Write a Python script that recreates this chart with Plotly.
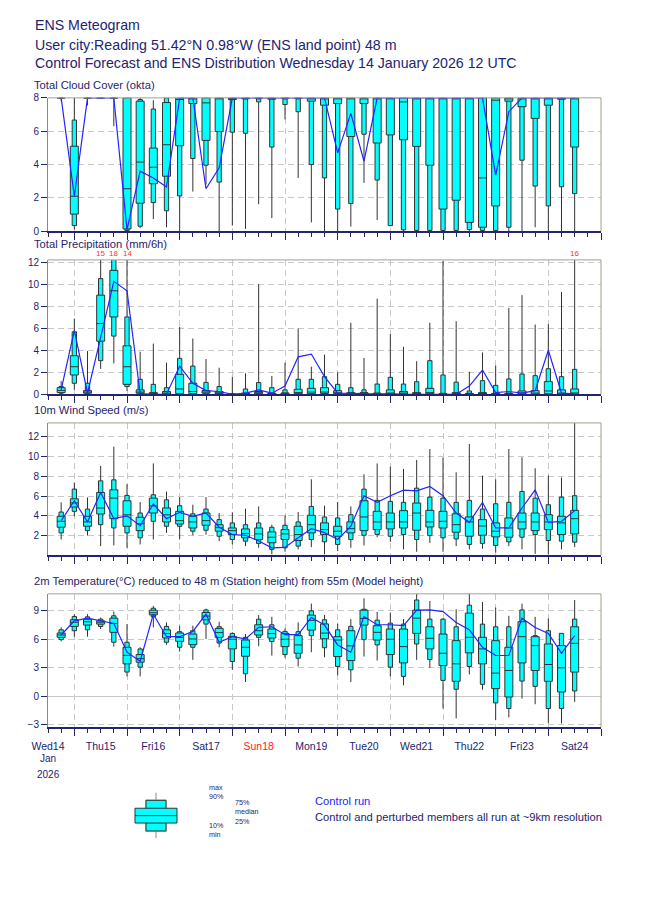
import pandas as pd
import plotly.graph_objects as go

# ---------------- data ----------------
times = pd.date_range("2026-01-14 18:00", periods=40, freq="6h").strftime("%Y-%m-%d %H:%M").tolist()
midnights = pd.date_range("2026-01-15", "2026-01-25", freq="D").strftime("%Y-%m-%d %H:%M").tolist()
noons = pd.date_range("2026-01-14 12:00", "2026-01-24 12:00", freq="D").strftime("%Y-%m-%d %H:%M").tolist()
day_labels = ["Wed14", "Thu15", "Fri16", "Sat17", "Sun18", "Mon19", "Tue20", "Wed21", "Thu22", "Fri23", "Sat24"]
weekend_red = ["Sun18"]

# Total cloud cover (okta)
cloud_min = [7.8, 0.1, 7.55, 8, 6.3, 0, 0.2, 0.73, 0.24, 0, 2.38, 2.8, 0, 0.34, 0.14, 1.62, 0.79, 6.71, 3.2, 0.53,
             0, 0, 0.28, 2.9, 0.67, 0.3, 0, 0, 0, 0, 0, 0, 0, 0, 0, 0, 0.24, 0, 0, 0]
cloud_p10 = [8, 0.34, 8, 8, 8, 0.05, 0.3, 1.72, 1.23, 2.12, 4.36, 3.96, 2.95, 5.94, 5.88, 7.76, 5.05, 7.6, 7.17, 4.0,
             3.2, 1.33, 1.66, 5.82, 3.07, 0.34, 0.08, 0.05, 0.05, 0.05, 0.05, 0.1, 0.05, 0.05, 0.24, 4.26, 2.71, 1.52, 2.67, 2.26]
cloud_p25 = [8, 1.03, 8, 8, 8, 0.14, 1.68, 2.85, 3.3, 5.13, 7.66, 5.45, 5.98, 7.9, 7.95, 8, 7.92, 8, 8, 7.8,
             7.56, 7.66, 5.68, 7.66, 5.29, 5.78, 5.49, 5.09, 3.96, 1.33, 1.86, 0.53, 0.24, 1.52, 7.8, 7.47, 6.77, 7.56, 7.92, 5.05]
cloud_med = [8, 2.1, 8, 8, 8, 2.55, 4.15, 3.84, 5.19, 7.9, 8, 7.7, 8, 8, 8, 8, 8, 8, 8, 8,
             8, 8, 8, 8, 8, 8, 7.76, 8, 8, 8, 8, 8, 3.2, 7.86, 8, 8, 8, 8, 8, 8]
cloud_p75 = [8, 5.1, 8, 8, 8, 8, 7.8, 4.99, 7.72, 8, 8, 8, 8, 8, 8, 8, 8, 8, 8, 8,
             8, 8, 8, 8, 8, 8, 8, 8, 8, 8, 8, 8, 8, 8, 8, 8, 8, 8, 8, 8]
cloud_p90 = [8, 6.67, 8, 8, 8, 8, 7.9, 7.33, 8, 8, 8, 8, 8, 8, 8, 8, 8, 8, 8, 8,
             8, 8, 8, 8, 8, 8, 8, 8, 8, 8, 8, 8, 8, 8, 8, 8, 8, 8, 8, 8]
cloud_max = [8, 8, 8, 8, 8, 8, 8, 7.86, 8, 8, 8, 8, 8, 8, 8, 8, 8, 8, 8, 8,
             8, 8, 8, 8, 8, 8, 8, 8, 8, 8, 8, 8, 8, 8, 8, 8, 8, 8, 8, 8]
cloud_ctrl = [8, 2.1, 8, 8, 8, 0.1, 3.6, 3.2, 2.65, 8, 8, 2.55, 3.8, 8, 8, 8, 8, 8, 8, 8,
              8, 4.7, 7.07, 4.2, 8, 8, 8, 8, 8, 8, 8, 8, 8, 3.37, 7.17, 8, 8, 8, 8, 8]

# Total precipitation (mm/6h)
prec_min = [0, 0.4, 0, 2.3, 2.8, 0.3, 0, 0, 0, 0, 0, 0, 0, 0, 0, 0, 0, 0, 0, 0,
            0, 0, 0, 0, 0, 0, 0, 0, 0, 0, 0, 0, 0, 0, 0, 0, 0, 0, 0, 0]
prec_p10 = [0.1, 1.0, 0.05, 3.05, 5.28, 0.7, 0.02, 0, 0, 0.02, 0.02, 0.02, 0.02, 0, 0, 0, 0, 0, 0.02, 0.02,
            0.02, 0, 0, 0, 0, 0, 0, 0, 0, 0, 0, 0, 0, 0, 0, 0, 0, 0, 0, 0]
prec_p25 = [0.15, 1.75, 0.1, 4.82, 7.02, 0.9, 0.1, 0.02, 0.02, 0.05, 0.05, 0.1, 0.05, 0, 0.02, 0.05, 0.02, 0.02, 0.05, 0.05,
            0.08, 0.05, 0.02, 0.02, 0, 0.02, 0.02, 0.02, 0.05, 0, 0.02, 0, 0.02, 0, 0, 0.02, 0.02, 0.05, 0.02, 0.02]
prec_med = [0.35, 2.5, 0.2, 6.42, 9.4, 2.5, 0.2, 0.05, 0.08, 0.48, 0.25, 0.2, 0.12, 0, 0.05, 0.12, 0.05, 0.05, 0.15, 0.2,
            0.2, 0.12, 0.05, 0.05, 0.02, 0.1, 0.08, 0.05, 0.15, 0.02, 0.05, 0.02, 0.05, 0.02, 0.02, 0.08, 0.1, 0.3, 0.1, 0.12]
prec_p75 = [0.6, 3.5, 0.33, 9.0, 11.25, 4.4, 0.4, 0.15, 0.25, 1.81, 1.0, 0.33, 0.25, 0, 0.1, 0.25, 0.1, 0.12, 0.45, 0.54,
            0.6, 0.33, 0.15, 0.15, 0.1, 0.4, 0.25, 0.15, 0.54, 0.05, 0.15, 0.08, 0.15, 0.08, 0.08, 0.3, 0.33, 1.15, 0.4, 0.48]
prec_p90 = [0.7, 5.67, 1.0, 10.5, 12.3, 7.02, 1.36, 0.9, 0.6, 3.26, 2.56, 1.08, 0.7, 0.02, 0.48, 1.06, 0.6, 0.4, 1.36, 1.36,
            1.6, 0.9, 0.6, 0.4, 0.93, 1.54, 0.93, 1.14, 3.05, 1.75, 1.1, 0.3, 1.24, 0.81, 1.39, 1.84, 1.69, 2.32, 1.6, 2.26]
prec_max = [1.2, 6.87, 3.92, 15, 18, 14, 3.86, 4.6, 2.87, 6.12, 5.06, 3.2, 2.41, 1.6, 1.9, 10.0, 1.66, 2.87, 5.97, 2.5,
            3.6, 2.0, 6.48, 3.3, 8.68, 5.46, 4.31, 3.0, 6.5, 12.1, 6.63, 2.05, 3.8, 2.6, 7.84, 9.0, 6.33, 6.36, 9.29, 16]
prec_ctrl = [0.4, 5.8, 0.1, 5.2, 10.25, 9.4, 0.05, 0, 0, 2.56, 1.0, 0.33, 0.25, 0, 0.1, 0.4, 0.1, 0.75, 3.4, 3.65,
             1.6, 0.1, 0.05, 0.05, 0.02, 0.05, 0, 0, 0, 0, 0, 0.75, 2.2, 0.15, 0.25, 0.1, 0.33, 4.0, 0.1, 0.03]

# 10m wind speed (m/s)
wind_min = [1.6, 3.95, 2.0, 0.93, 1.0, 0.76, 1.1, 1.6, 2.27, 1.6, 2.03, 2.1, 1.43, 1.1, 0.93, 0.76, 0.1, 0.36, 0.6, 0.83,
            0.1, 0.42, 0.76, 1.0, 1.83, 1.36, 0.6, 0.36, 1.26, 0.36, 0.93, 0.6, 0.66, 0.26, 0.93, 0.6, 0.15, 0.1, 0.6, 0.83]
wind_p10 = [2.27, 4.45, 2.5, 3.1, 2.77, 2.27, 1.77, 3.44, 2.94, 2.94, 2.44, 2.54, 1.93, 1.6, 1.43, 1.2, 0.6, 0.76, 0.93, 1.6,
            1.37, 1.1, 1.6, 2.03, 2.1, 1.93, 2.1, 1.6, 2.0, 1.77, 1.66, 1.1, 1.2, 1.0, 1.36, 1.83, 2.1, 1.5, 1.43, 1.33]
wind_p25 = [2.84, 4.89, 2.94, 4.18, 3.71, 2.94, 2.5, 4.28, 3.38, 3.17, 2.77, 3.04, 2.44, 2.1, 1.77, 1.6, 1.27, 1.6, 1.5, 2.27,
            2.1, 1.93, 2.27, 2.5, 2.6, 2.67, 2.77, 2.54, 2.87, 2.77, 2.34, 1.93, 2.03, 1.87, 1.83, 2.67, 2.5, 2.6, 2.1, 2.17]
wind_med = [3.44, 5.3, 3.38, 4.79, 5.79, 4.1, 3.2, 5.0, 4.1, 3.51, 3.38, 3.51, 2.8, 2.5, 2.2, 2.17, 1.83, 2.17, 2.1, 3.1,
            2.6, 2.44, 2.7, 3.88, 3.38, 3.38, 3.38, 4.28, 3.38, 3.44, 3.1, 3.38, 2.97, 2.44, 2.77, 3.38, 3.38, 3.38, 3.28, 3.71]
wind_p75 = [3.95, 5.72, 3.95, 6.36, 6.63, 5.52, 3.85, 5.79, 4.79, 4.45, 3.95, 4.28, 3.1, 2.77, 2.67, 2.77, 2.37, 2.6, 2.94, 4.05,
            3.28, 2.94, 3.38, 5.52, 4.45, 4.28, 4.52, 5.29, 4.55, 4.45, 4.2, 3.88, 3.61, 3.28, 3.78, 4.28, 4.28, 4.11, 3.95, 4.55]
wind_p90 = [4.38, 6.7, 4.68, 7.54, 7.64, 6.06, 4.28, 6.13, 5.62, 5.02, 4.2, 4.68, 3.61, 3.28, 3.1, 3.28, 2.84, 3.04, 3.38, 4.95,
            3.88, 3.78, 4.11, 6.7, 5.56, 5.46, 5.36, 6.8, 5.89, 5.79, 5.36, 5.56, 4.68, 5.22, 5.36, 6.46, 5.79, 5.12, 5.89, 6.03]
wind_max = [5.36, 7.37, 5.86, 9.05, 11.0, 7.2, 5.39, 9.3, 6.46, 5.89, 5.12, 5.89, 4.28, 4.35, 4.72, 4.95, 3.1, 4.05, 4.38, 7.7,
            5.02, 5.39, 4.95, 8.2, 9.3, 8.98, 8.74, 9.65, 10.76, 9.88, 8.4, 11.26, 8.07, 7.7, 10.76, 9.92, 8.81, 8.07, 7.87, 14.0]
wind_ctrl = [3.5, 5.52, 3.38, 6.36, 3.71, 4.0, 3.0, 5.19, 3.71, 4.35, 3.95, 4.28, 2.84, 2.1, 2.03, 1.45, 0.76, 0.8, 1.77, 2.7,
             2.3, 1.6, 2.94, 6.03, 5.36, 6.03, 6.6, 6.53, 6.97, 6.03, 4.28, 3.34, 5.36, 2.77, 2.77, 4.79, 6.63, 3.34, 3.44, 4.52]

# 2m temperature (deg C)
temp_min = [5.78, 6.27, 6.27, 7.08, 5.22, 2.07, 2.07, 7.25, 5.43, 4.7, 3.82, 6.03, 5.15, 2.77, 1.48, 5.26, 4.28, 4.03, 3.12, 4.63,
            4.1, 2.18, 1.48, 4.17, 3.75, 2.07, 1.13, 3.82, 2.98, -1.32, -2.37, 2.28, 0.67, -2.55, -2.27, -0.27, -0.87, -2.9, -2.9, -0.62]
temp_p10 = [5.96, 6.9, 7.0, 7.35, 5.68, 2.53, 3.05, 8.37, 5.68, 5.15, 5.15, 7.6, 5.6, 3.65, 2.35, 6.2, 5.75, 4.38, 4.0, 6.38,
            5.1, 3.12, 2.77, 5.96, 5.4, 3.05, 2.07, 5.5, 3.85, 1.65, 0.71, 3.12, 1.23, -0.73, -1.32, 1.58, 1.02, -1.32, -1.32, 0.53]
temp_p25 = [6.2, 7.36, 7.5, 7.6, 6.73, 3.4, 3.58, 8.58, 6.13, 5.78, 5.43, 8.06, 6.2, 4.98, 4.2, 6.45, 6.13, 5.22, 4.52, 6.97,
            6.05, 4.17, 3.75, 7.5, 5.92, 4.38, 3.5, 6.62, 4.98, 3.22, 1.55, 4.56, 3.4, 0.78, -0.1, 3.5, 2.7, 1.55, 0.43, 2.53]
temp_med = [6.45, 7.8, 7.85, 7.8, 7.67, 4.3, 3.95, 8.8, 6.6, 6.2, 6.03, 8.45, 6.7, 6.0, 5.15, 6.9, 6.6, 6.0, 5.4, 8.0,
            6.65, 5.92, 5.3, 8.2, 6.73, 6.0, 5.22, 8.23, 6.1, 4.52, 3.4, 6.2, 4.98, 2.42, 2.7, 6.27, 5.33, 3.33, 2.98, 5.57]
temp_p75 = [6.66, 8.06, 8.12, 7.95, 8.23, 5.15, 4.38, 9.07, 7.0, 6.66, 6.55, 8.83, 7.15, 6.3, 5.92, 7.53, 7.08, 6.62, 6.38, 8.55,
            7.62, 6.27, 6.9, 9.07, 7.43, 7.08, 7.08, 9.07, 7.32, 6.55, 5.85, 8.76, 6.2, 5.85, 5.15, 7.85, 6.27, 5.5, 5.33, 7.32]
temp_p90 = [7.0, 8.4, 8.37, 8.12, 8.48, 5.68, 4.98, 9.28, 7.36, 6.8, 6.9, 9.1, 7.32, 6.62, 6.2, 8.12, 7.53, 6.83, 6.8, 9.0,
            8.06, 7.0, 7.36, 9.17, 8.02, 7.7, 7.6, 10.15, 8.13, 8.13, 7.32, 9.6, 7.6, 7.32, 7.32, 9.1, 6.38, 6.9, 6.62, 8.13]
temp_max = [7.25, 8.65, 8.65, 8.3, 8.93, 7.6, 5.15, 9.52, 7.78, 7.43, 7.43, 9.24, 7.85, 6.73, 6.55, 8.55, 8.37, 7.15, 7.78, 9.77,
            8.55, 7.67, 8.13, 10.33, 8.9, 8.83, 8.13, 10.85, 10.05, 8.2, 9.17, 10.82, 9.94, 9.35, 8.48, 9.77, 8.37, 8.2, 6.65, 10.15]
temp_ctrl = [6.45, 7.95, 8.23, 7.95, 7.67, 4.63, 3.68, 8.65, 6.27, 6.27, 6.83, 8.65, 5.68, 6.27, 6.03, 7.25, 7.32, 6.48, 6.48, 8.3,
             7.5, 5.4, 4.63, 8.4, 7.53, 7.53, 7.43, 9.07, 9.1, 8.93, 7.78, 7.0, 5.15, 4.28, 4.28, 8.23, 7.25, 6.62, 4.52, 6.38]

# legend glyph (illustrative quantile levels)
legend_levels = dict(mn=0, p10=7, p25=15, med=22.5, p75=30, p90=38, mx=46)

# ---------------- style / geometry ----------------
W, H = 650, 916
L, R = 48, 601
PW = R - L
NAVY = "#24246e"
CYAN = "#00ffff"
BOXLINE = "#333333"
CTRL = "#2424ff"
GRID = "#c8c8c8"
FRAME = "#a49e8e"
FONT = "Liberation Sans, Arial, sans-serif"
X_RANGE = ["2026-01-14 12:00", "2026-01-25 00:00"]
MS_PER_PX = 86400000 / 52.67
WIDE = 8 * MS_PER_PX
NARROW = 4.3 * MS_PER_PX


def px(x):
    return (x - L) / PW


def py(y):
    return 1 - y / H


panels = [
    dict(title="Total Cloud Cover (okta)", top=94, bottom=229, rng=[0, 8], ticks=[0, 2, 4, 6, 8], title_y=81,
         stats=(cloud_min, cloud_p10, cloud_p25, cloud_med, cloud_p75, cloud_p90, cloud_max), ctrl=cloud_ctrl, zero=False),
    dict(title="Total Precipitation (mm/6h)", top=258, bottom=394, rng=[0, 12.2], ticks=[0, 2, 4, 6, 8, 10, 12], title_y=241.5,
         stats=(prec_min, prec_p10, prec_p25, prec_med, prec_p75, prec_p90, prec_max), ctrl=prec_ctrl, zero=False),
    dict(title="10m Wind Speed (m/s)", top=423, bottom=557, rng=[0, 13.4], ticks=[2, 4, 6, 8, 10, 12], title_y=410,
         stats=(wind_min, wind_p10, wind_p25, wind_med, wind_p75, wind_p90, wind_max), ctrl=wind_ctrl, zero=False),
    dict(title="2m Temperature(\u00b0C) reduced to 48 m (Station height) from 55m (Model height)", top=596, bottom=731,
         rng=[-3.3, 10.8], ticks=[-3, 0, 3, 6, 9], title_y=583,
         stats=(temp_min, temp_p10, temp_p25, temp_med, temp_p75, temp_p90, temp_max), ctrl=temp_ctrl, zero=True),
]

fig = go.Figure()
annotations = []
shapes = []
layout = {}

for i, p in enumerate(panels, start=1):
    xa = "x" if i == 1 else f"x{i}"
    ya = "y" if i == 1 else f"y{i}"
    mn, p10, p25, med, p75, p90, mx = p["stats"]
    # 10-90% narrow box with min/max whiskers
    fig.add_trace(go.Box(x=times, q1=p10, median=med, q3=p90, lowerfence=mn, upperfence=mx,
                         width=NARROW, fillcolor=CYAN, line=dict(color=BOXLINE, width=1), whiskerwidth=0,
                         boxpoints=False, xaxis=xa, yaxis=ya, showlegend=False, hoverinfo="skip"))
    # 25-75% wide box with median
    fig.add_trace(go.Box(x=times, q1=p25, median=med, q3=p75, lowerfence=p25, upperfence=p75,
                         width=WIDE, fillcolor=CYAN, line=dict(color=BOXLINE, width=1), whiskerwidth=0,
                         boxpoints=False, xaxis=xa, yaxis=ya, showlegend=False, hoverinfo="skip"))
    # control run
    cx = "x5" if i == 4 else xa
    fig.add_trace(go.Scatter(x=times, y=p["ctrl"], mode="lines", line=dict(color=CTRL, width=1.2),
                             xaxis=cx, yaxis=ya, showlegend=False, hoverinfo="skip"))

    dom = [py(p["bottom"]), py(p["top"])]
    layout[f"xaxis{'' if i == 1 else i}"] = dict(
        type="date", range=X_RANGE, domain=[0, 1], anchor=ya,
        tickmode="array", tickvals=midnights, showticklabels=False,
        ticks="outside", ticklen=7, tickwidth=1.3, tickcolor=NAVY,
        showgrid=True, gridcolor=GRID, griddash="6px,4px", gridwidth=1,
        showline=True, linecolor=NAVY, linewidth=1.5, zeroline=False,
        minor=dict(tickmode="linear", tick0=X_RANGE[0], dtick=6 * 3600 * 1000, ticks="outside",
                   ticklen=4, tickcolor=NAVY, tickwidth=1, showgrid=False),
    )
    layout[f"yaxis{'' if i == 1 else i}"] = dict(
        domain=dom, range=p["rng"], anchor=xa, tickmode="array", tickvals=p["ticks"],
        ticks="outside", ticklen=6, tickcolor=NAVY, tickfont=dict(size=10, color=NAVY, family=FONT),
        showline=True, linecolor="#8a8a8a", linewidth=1,
        showgrid=True, gridcolor=GRID, griddash="6px,4px", gridwidth=1,
        zeroline=p["zero"], zerolinecolor=GRID, zerolinewidth=1,
    )
    # top and right frame lines
    shapes.append(dict(type="line", xref=f"{xa} domain", yref=f"{ya} domain", x0=0, x1=1, y0=1, y1=1,
                       line=dict(color=FRAME, width=1)))
    shapes.append(dict(type="line", xref=f"{xa} domain", yref=f"{ya} domain", x0=1, x1=1, y0=0, y1=1,
                       line=dict(color=FRAME, width=1)))
    annotations.append(dict(text=p["title"], x=px(33), y=py(p["title_y"]), xref="paper", yref="paper",
                            xanchor="left", yanchor="middle", showarrow=False, borderpad=0,
                            font=dict(size=11.2, color=NAVY, family=FONT)))

# values exceeding the precipitation axis
prec_top = panels[1]["rng"][1]
for t, v in zip(times, prec_max):
    if v > prec_top:
        annotations.append(dict(text=f"{v:g}", x=t, xref="x2", y=py(252), yref="paper", showarrow=False,
                                xanchor="center", yanchor="middle", borderpad=0,
                                font=dict(size=8, color="#ff3030", family=FONT)))

# day labels on an overlay axis of the bottom panel
ticktext = [f"<span style='color:#ff2020'>{d}</span>" if d in weekend_red else d for d in day_labels]
layout["xaxis5"] = dict(type="date", range=X_RANGE, overlaying="x4", anchor="y4", tickmode="array",
                        tickvals=noons, ticktext=ticktext, ticks="outside", ticklen=9, tickcolor="rgba(0,0,0,0)",
                        showgrid=False, showline=False, zeroline=False,
                        tickfont=dict(size=10.5, color=NAVY, family=FONT))
annotations.append(dict(text="Jan", x=px(48), y=py(763), xref="paper", yref="paper", showarrow=False,
                        xanchor="center", yanchor="middle", font=dict(size=10, color=NAVY, family=FONT)))
annotations.append(dict(text="2026", x=px(48), y=py(779), xref="paper", yref="paper", showarrow=False,
                        xanchor="center", yanchor="middle", font=dict(size=10, color=NAVY, family=FONT)))

# header
for txt, yy in [("ENS Meteogram", 20),
                ("User city:Reading 51.42\u00b0N 0.98\u00b0W (ENS land point) 48 m", 40),
                ("Control Forecast and ENS Distribution Wednesday 14 January 2026 12 UTC", 59)]:
    annotations.append(dict(text=txt, x=px(33), y=py(yy), xref="paper", yref="paper", showarrow=False,
                            xanchor="left", yanchor="middle", font=dict(size=14.2, color=NAVY, family=FONT)))

# legend glyph on its own small axes
lg = legend_levels
fig.add_trace(go.Box(x=[0], q1=[lg["p10"]], median=[lg["med"]], q3=[lg["p90"]], lowerfence=[lg["mn"]],
                     upperfence=[lg["mx"]], width=0.385, fillcolor=CYAN, line=dict(color="#b0b0b0", width=1.5),
                     whiskerwidth=0, boxpoints=False, xaxis="x6", yaxis="y6", showlegend=False, hoverinfo="skip"))
fig.add_trace(go.Box(x=[0], q1=[lg["p10"]], median=[lg["med"]], q3=[lg["p90"]], lowerfence=[lg["p10"]],
                     upperfence=[lg["p90"]], width=0.385, fillcolor=CYAN, line=dict(color=BOXLINE, width=1),
                     whiskerwidth=0, boxpoints=False, xaxis="x6", yaxis="y6", showlegend=False, hoverinfo="skip"))
fig.add_trace(go.Box(x=[0], q1=[lg["p25"]], median=[lg["med"]], q3=[lg["p75"]], lowerfence=[lg["p25"]],
                     upperfence=[lg["p75"]], width=0.808, fillcolor=CYAN, line=dict(color=BOXLINE, width=1),
                     whiskerwidth=0, boxpoints=False, xaxis="x6", yaxis="y6", showlegend=False, hoverinfo="skip"))
layout["xaxis6"] = dict(domain=[px(130), px(182)], range=[-0.5, 0.5], anchor="y6", visible=False)
layout["yaxis6"] = dict(domain=[py(843), py(797)], range=[0, 46], anchor="x6", visible=False)

for txt, xx, yy in [("max<br>90%", 208, 797), ("75%<br>median<br>25%", 234, 816.5), ("10%<br>min", 208, 835.5)]:
    annotations.append(dict(text=txt, x=px(xx), y=py(yy), xref="paper", yref="paper", showarrow=False,
                            xanchor="left", yanchor="middle", align="left", borderpad=0,
                            font=dict(size=7.2, color=NAVY, family=FONT)))

annotations.append(dict(text="Control run", x=px(313), y=py(806), xref="paper", yref="paper", showarrow=False,
                        xanchor="left", yanchor="middle", font=dict(size=11.2, color=CTRL, family=FONT)))
annotations.append(dict(text="Control and perturbed members all run at ~9km resolution", x=px(313), y=py(822),
                        xref="paper", yref="paper", showarrow=False, xanchor="left", yanchor="middle",
                        font=dict(size=11.2, color=NAVY, family=FONT)))

fig.update_layout(**layout)
fig.update_layout(width=W, height=H, margin=dict(l=L, r=W - R, t=0, b=0, pad=0),
                  paper_bgcolor="white", plot_bgcolor="white", boxmode="overlay",
                  font=dict(family=FONT, color=NAVY), annotations=annotations, shapes=shapes,
                  showlegend=False)

fig.write_html("out.html", config={"displayModeBar": False},
               post_script="document.body.style.margin='0';document.body.style.overflow='hidden';")
